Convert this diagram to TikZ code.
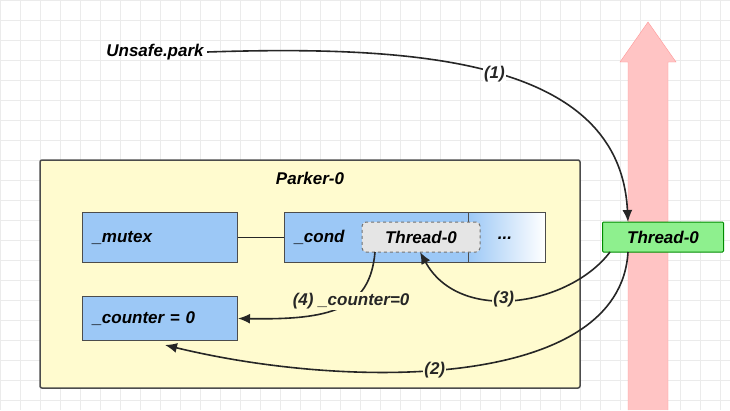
\documentclass[tikz,border=0pt]{standalone}
\usepackage{fontspec}
\setmainfont{Liberation Sans}
\usetikzlibrary{arrows.meta,shapes.arrows}
\definecolor{boxblue}{HTML}{9CC8F6}
\definecolor{parker}{HTML}{FFFBCF}
\definecolor{tgreen}{HTML}{8EF08E}
\definecolor{pinkar}{HTML}{FFC4C4}
\begin{document}
\begin{tikzpicture}[x=1pt,y=-1pt,
  txt/.style={font=\bfseries\itshape\fontsize{17}{19}\selectfont},
  blk/.style={draw=black!70,fill=boxblue,line width=1pt},
  arr/.style={-{Latex[length=12pt,width=10pt]},line width=1.6pt,black!85}]
\useasboundingbox (0,0) rectangle (730,410);
\fill[white] (0,0) rectangle (730,410);
\draw[black!8,step=20pt] (0,0) grid (730,410);
% pink arrow
\fill[pinkar,draw=red!40] (628,410) -- (628,62) -- (620,62) -- (648,22) -- (676,62) -- (668,62) -- (668,410);
% parker
\draw[fill=parker,draw=black!70,line width=1.5pt,rounded corners=2pt] (40,160) rectangle (580,388);
\node[txt] (pk) at (310,178) {Parker-0};
\node[blk,minimum width=155pt,minimum height=50pt,anchor=north west,txt,text width=135pt] (mutex) at (82,212) {\_mutex};
\node[blk,minimum width=184pt,minimum height=50pt,anchor=north west,txt,text width=164pt] (cond) at (284,212) {\_cond};
\shade[left color=boxblue,right color=white] (468,212) rectangle (545,262);
\draw[black!70,line width=1pt] (284,212) rectangle (545,262);
\draw[black!70,line width=1pt] (468,212) -- (468,262);
\node[txt] (dots) at (505,238) {...};
\node[draw=black!55,dashed,line width=1pt,fill=black!10,rounded corners=4pt,minimum width=118pt,minimum height=30pt,txt] (th) at (421,237) {Thread-0};
\node[blk,minimum width=155pt,minimum height=44pt,anchor=north west,txt,text width=135pt] (cnt) at (82,296) {\_counter = 0};
\draw[black!85,line width=1.5pt] (mutex.east) -- (cond.west);
\node[draw=green!55!black,line width=1pt,fill=tgreen,minimum width=121pt,minimum height=30pt,txt,rounded corners=1pt] (t0) at (663,237) {Thread-0};
\node[txt] (up) at (155,52) {Unsafe.park};
\coordinate (t0a) at (628,222);
\coordinate (t0b) at (610,252);
\coordinate (t0c) at (628,252);
\coordinate (tha) at (420,252);
\coordinate (thb) at (375,252);
\draw[arr] (up.east) .. controls (420,45) and (620,60) .. node[pos=0.5,fill=white,inner sep=1pt,txt]{(1)} (t0a);
\draw[arr] (t0b) .. controls (570,305) and (460,325) .. node[pos=0.55,fill=parker,inner sep=1pt,txt]{(3)} (tha);
\draw[arr] (thb) .. controls (370,310) and (330,320) .. node[pos=0.4,fill=parker,inner sep=1pt,txt]{(4) \_counter=0} (cnt.east);
\draw[arr] (t0c) .. controls (620,390) and (350,390) .. node[pos=0.55,fill=parker,inner sep=1pt,txt]{(2)} (165,345);
\end{tikzpicture}
\end{document}
